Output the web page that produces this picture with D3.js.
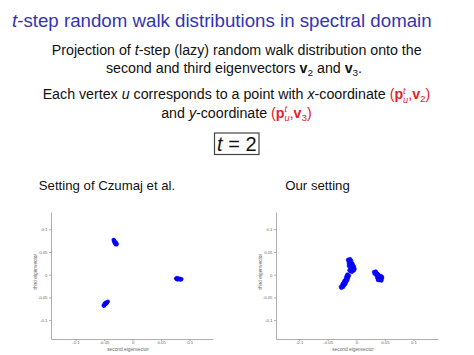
<!DOCTYPE html>
<html><head><meta charset="utf-8">
<script src="https://cdn.jsdelivr.net/npm/d3@7"></script>
<style>
html,body{margin:0;padding:0;background:#fff;}
svg{display:block;font-family:"Liberation Sans",Arial,Helvetica,sans-serif;}
</style></head>
<body>
<svg id="c" width="474" height="355"></svg>
<script>
// ---- data ----
const xTicks = [-0.1, -0.05, 0, 0.05, 0.1];
const yTicks = [-0.1, -0.05, 0, 0.05, 0.1];
const xAxisTitle = "second eigenvector";
const yAxisTitle = "third eigenvector";
const panelTitles = ["Setting of Czumaj et al.", "Our setting"];
// Czumaj et al. setting (left) : three tight clusters
const czumajCluster1 = [[-0.0335,0.077],[-0.032,0.076],[-0.033,0.074],[-0.031,0.073],[-0.032,0.071],[-0.030,0.070],[-0.029,0.068],[-0.031,0.069],[-0.028,0.066],[-0.029,0.071],[-0.030,0.0665],[-0.0275,0.068]];
const czumajCluster2 = [[0.076,-0.008],[0.078,-0.007],[0.080,-0.008],[0.082,-0.0085],[0.084,-0.009],[0.086,-0.0095],[0.077,-0.010],[0.079,-0.011],[0.081,-0.010],[0.083,-0.011],[0.085,-0.011],[0.078,-0.009]];
const czumajCluster3 = [[-0.051,-0.068],[-0.050,-0.066],[-0.049,-0.067],[-0.048,-0.064],[-0.047,-0.065],[-0.046,-0.062],[-0.045,-0.063],[-0.044,-0.060],[-0.043,-0.059],[-0.049,-0.063],[-0.047,-0.061],[-0.050,-0.069]];
// Our setting (right)
const oursCluster1 = [[-0.0145,0.033],[-0.011,0.0345],[-0.009,0.031],[-0.0135,0.029],[-0.010,0.027],[-0.007,0.025],[-0.011,0.023],[-0.006,0.021],[-0.009,0.018],[-0.004,0.017],[-0.007,0.014],[-0.003,0.013],[-0.009,0.012],[-0.005,0.009],[-0.011,0.008],[-0.008,0.006],[-0.012,0.010],[-0.013,0.019],[-0.005,0.019],[-0.010,0.015],[-0.013,0.024],[-0.004,0.010]];
const oursCluster2 = [[-0.0155,0.0005],[-0.013,-0.002],[-0.017,-0.003],[-0.014,-0.005],[-0.018,-0.007],[-0.015,-0.009],[-0.019,-0.011],[-0.016,-0.013],[-0.021,-0.014],[-0.018,-0.016],[-0.022,-0.018],[-0.019,-0.020],[-0.024,-0.021],[-0.021,-0.023],[-0.025,-0.025],[-0.027,-0.027],[-0.023,-0.027],[-0.026,-0.029],[-0.023,-0.019],[-0.018,-0.012]];
const oursCluster3 = [[0.031,0.006],[0.034,0.007],[0.033,0.004],[0.036,0.003],[0.038,0.001],[0.035,0.000],[0.040,-0.002],[0.043,-0.003],[0.045,-0.005],[0.042,-0.006],[0.039,-0.005],[0.037,-0.008],[0.040,-0.009],[0.043,-0.010],[0.045,-0.008],[0.041,-0.012],[0.038,-0.012],[0.044,-0.013],[0.032,0.002],[0.036,-0.004]];

const svg = d3.select("#c");
const BLUE_T = "#3434b4", RED = "#e4202c";

function fit(sel, w) {
  const fs = parseFloat(sel.attr("font-size"));
  const bw = sel.node().getBBox().width;
  sel.attr("font-size", (fs * w / bw).toFixed(2));
}

// title
const title = svg.append("text").attr("x", 12).attr("y", 26.5).attr("font-size", 19).attr("fill", BLUE_T);
title.append("tspan").attr("font-style", "italic").text("t");
title.append("tspan").text("-step random walk distributions in spectral domain");
fit(title, 420);

// line 2
const l2 = svg.append("text").attr("x", 236.7).attr("y", 55).attr("text-anchor", "middle").attr("font-size", 14).attr("fill", "#111");
l2.append("tspan").text("Projection of ");
l2.append("tspan").attr("font-style", "italic").text("t");
l2.append("tspan").text("-step (lazy) random walk distribution onto the");
fit(l2, 370);
const fsBody = parseFloat(l2.attr("font-size"));

// line 3
const l3 = svg.append("text").attr("x", 234).attr("y", 72.5).attr("text-anchor", "middle").attr("font-size", fsBody).attr("fill", "#111");
l3.append("tspan").text("second and third eigenvectors ");
l3.append("tspan").attr("font-weight", "bold").text("v");
l3.append("tspan").attr("font-size", fsBody * 0.7).attr("dy", 3).text("2");
l3.append("tspan").attr("dy", -3).text(" and ");
l3.append("tspan").attr("font-weight", "bold").text("v");
l3.append("tspan").attr("font-size", fsBody * 0.7).attr("dy", 3).text("3");
l3.append("tspan").attr("dy", -3).text(".");

function ptuv(t, sub) {
  const s = fsBody * 0.65;
  t.append("tspan").attr("fill", RED).text("(");
  t.append("tspan").attr("fill", RED).attr("font-weight", "bold").text("p");
  t.append("tspan").attr("fill", RED).attr("font-style", "italic").attr("font-size", s).attr("dy", -5.5).text("t");
  t.append("tspan").attr("fill", RED).attr("font-style", "italic").attr("font-size", s).attr("dx", -2.6).attr("dy", 9).text("u");
  t.append("tspan").attr("fill", RED).attr("dy", -3.5).text(",");
  t.append("tspan").attr("fill", RED).attr("font-weight", "bold").text("v");
  t.append("tspan").attr("fill", RED).attr("font-size", fsBody * 0.7).attr("dy", 3).text(sub);
  t.append("tspan").attr("fill", RED).attr("dy", -3).text(")");
}
// line 4
const l4 = svg.append("text").attr("x", 236.5).attr("y", 99.3).attr("text-anchor", "middle").attr("font-size", fsBody).attr("fill", "#111");
l4.append("tspan").text("Each vertex ");
l4.append("tspan").attr("font-style", "italic").text("u");
l4.append("tspan").text(" corresponds to a point with ");
l4.append("tspan").attr("font-style", "italic").text("x");
l4.append("tspan").text("-coordinate ");
ptuv(l4, "2");
// line 5
const l5 = svg.append("text").attr("x", 236.5).attr("y", 117.7).attr("text-anchor", "middle").attr("font-size", fsBody).attr("fill", "#111");
l5.append("tspan").text("and ");
l5.append("tspan").attr("font-style", "italic").text("y");
l5.append("tspan").text("-coordinate ");
ptuv(l5, "3");

// t = 2 box
svg.append("rect").attr("x", 214.5).attr("y", 133).attr("width", 44.5).attr("height", 21.5)
  .attr("fill", "none").attr("stroke", "#444").attr("stroke-width", 1.2);
const tb = svg.append("text").attr("x", 236.8).attr("y", 151).attr("text-anchor", "middle").attr("font-size", 20).attr("fill", "#111");
tb.append("tspan").attr("font-style", "italic").text("t");
tb.append("tspan").text(" = 2");

// panels
const panels = [
  {title: panelTitles[0], tx: 107, xr: [51, 213], xd: [-0.143, 0.141], yr: [339, 212], yd: [-0.1416, 0.138],
   ylabX: 37, r: 1.6, clusters: [czumajCluster1, czumajCluster2, czumajCluster3]},
  {title: panelTitles[1], tx: 317.5, xr: [276, 438], xd: [-0.1404, 0.1428], yr: [339, 212], yd: [-0.1416, 0.138],
   ylabX: 262, r: 1.8, clusters: [oursCluster1, oursCluster2, oursCluster3]}
];
panels.forEach(p => {
  svg.append("text").attr("x", p.tx).attr("y", 190).attr("text-anchor", "middle")
    .attr("font-size", 13.2).attr("fill", "#111").text(p.title);
  const x = d3.scaleLinear().domain(p.xd).range(p.xr);
  const y = d3.scaleLinear().domain(p.yd).range(p.yr);
  const fmt = d => String(d);
  const gx = svg.append("g").attr("transform", `translate(0,${p.yr[0]})`)
    .call(d3.axisBottom(x).tickValues(xTicks).tickFormat(fmt).tickSize(2).tickPadding(0).tickSizeOuter(0));
  const gy = svg.append("g").attr("transform", `translate(${p.xr[0]},0)`)
    .call(d3.axisLeft(y).tickValues(yTicks).tickFormat(fmt).tickSize(2).tickPadding(1.5).tickSizeOuter(0));
  [gx, gy].forEach(g => {
    g.selectAll("path,line").attr("stroke", "#9a9a9a").attr("stroke-width", 0.8);
    g.selectAll("text").attr("font-size", 4.3).attr("fill", "#666").attr("font-family", "Liberation Sans, Arial, sans-serif");
  });
  gx.selectAll("text").attr("dy", "0.6em");
  svg.append("text").attr("x", (p.xr[0] + p.xr[1]) / 2 - 4).attr("y", 350.5).attr("text-anchor", "middle")
    .attr("font-size", 4.8).attr("fill", "#666").text(xAxisTitle);
  svg.append("text").attr("transform", `translate(${p.ylabX},${y(0) - 3}) rotate(-90)`).attr("text-anchor", "middle")
    .attr("font-size", 4.8).attr("fill", "#666").text(yAxisTitle);
  p.clusters.forEach(c => {
    svg.append("g").selectAll("circle").data(c).join("circle")
      .attr("cx", d => x(d[0])).attr("cy", d => y(d[1])).attr("r", p.r)
      .attr("fill", "#0a0aee").attr("stroke", "#0000ff").attr("stroke-width", 0.6);
  });
});
</script>
</body></html>
